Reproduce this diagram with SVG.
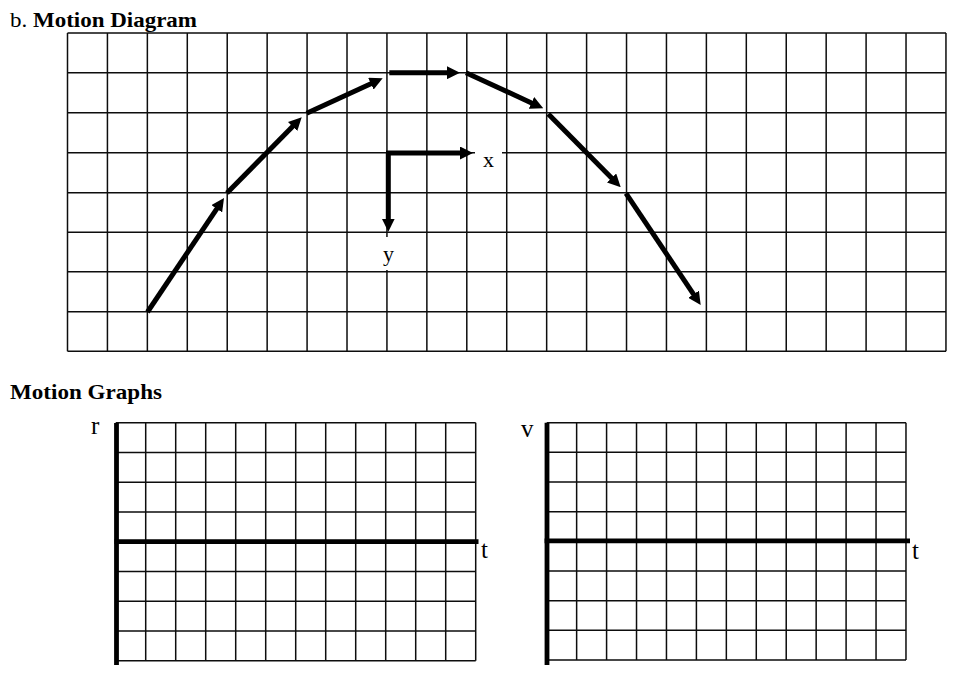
<svg xmlns="http://www.w3.org/2000/svg" width="974" height="688" viewBox="0 0 974 688">
  <style>
    .grid { fill: none; stroke: #0d0d0d; stroke-width: 1.5; }
    .axis { fill: none; stroke: #000; stroke-width: 4.8; }
    .arrow { fill: none; stroke: #000; stroke-width: 5; marker-end: url(#head); }
    .lbl { font-family: "Liberation Serif", "Times New Roman", serif; fill: #000; }
    .title { font-family: "Liberation Serif", "Times New Roman", serif; font-size: 22px; fill: #000; }
  </style>
  <defs>
    <marker id="head" markerUnits="userSpaceOnUse" viewBox="0 0 13 13" refX="6" refY="6.5" markerWidth="13" markerHeight="13" orient="auto">
      <path d="M0,0 L13,6.5 L0,13 z" fill="#000"/>
    </marker>
  </defs>
  <rect width="974" height="688" fill="#fff"/>

  <text class="title" x="10" y="27" textLength="187" lengthAdjust="spacingAndGlyphs">b. <tspan font-weight="bold">Motion Diagram</tspan></text>

  <g id="motion-diagram-grid">
    <path class="grid" d="M67.5,33 H946 M67.5,72.7 H946 M67.5,112.7 H946 M67.5,152.7 H946 M67.5,192.7 H946 M67.5,232.3 H946 M67.5,271.7 H946 M67.5,311.7 H946 M67.5,351.3 H946
      M67.5,33 V351.3 M107.43,33 V351.3 M147.36,33 V351.3 M187.29,33 V351.3 M227.22,33 V351.3 M267.15,33 V351.3 M307.08,33 V351.3 M347.01,33 V351.3 M386.94,33 V351.3 M426.87,33 V351.3 M466.8,33 V351.3 M506.73,33 V351.3 M546.66,33 V351.3 M586.59,33 V351.3 M626.52,33 V351.3 M666.45,33 V351.3 M706.38,33 V351.3 M746.31,33 V351.3 M786.24,33 V351.3 M826.17,33 V351.3 M866.1,33 V351.3 M906.03,33 V351.3 M945.96,33 V351.3"/>
  </g>

  <g id="axis-labels">
    <rect x="475" y="146" width="27" height="24" fill="#fff"/>
    <text class="lbl" x="483" y="167" font-size="22">x</text>
    <rect x="378" y="237" width="20" height="33" fill="#fff"/>
    <text class="lbl" x="383" y="261" font-size="22">y</text>
  </g>

  <g id="connectors">
    <path class="arrow" d="M147.5,312 L220.1,203.8"/>
    <path class="arrow" d="M227,193 L296.8,122.3"/>
    <path class="arrow" d="M306.7,113.3 L376.3,81.2"/>
    <path class="arrow" d="M389.3,72.7 L453,72.7"/>
    <path class="arrow" d="M466,72.7 L536.9,105.4"/>
    <path class="arrow" d="M548.3,114 L615.8,182.3"/>
    <path class="arrow" d="M626,193.3 L696.8,299.2"/>
    <path class="arrow" d="M386,153 L466,153"/>
    <path class="arrow" d="M388.3,153 L388.3,224.7"/>
  </g>

  <text class="title" x="10" y="399" font-weight="bold" textLength="152" lengthAdjust="spacingAndGlyphs">Motion Graphs</text>

  <g id="position-graph">
    <path class="grid" d="M115.7,422.7 H475.7 M115.7,452.45 H475.7 M115.7,482.2 H475.7 M115.7,511.95 H475.7 M115.7,571.45 H475.7 M115.7,601.2 H475.7 M115.7,630.95 H475.7 M115.7,660.7 H475.7
      M145.7,422.7 V660.7 M175.7,422.7 V660.7 M205.7,422.7 V660.7 M235.7,422.7 V660.7 M265.7,422.7 V660.7 M295.7,422.7 V660.7 M325.7,422.7 V660.7 M355.7,422.7 V660.7 M385.7,422.7 V660.7 M415.7,422.7 V660.7 M445.7,422.7 V660.7 M475.7,422.7 V660.7"/>
    <path class="axis" d="M116.5,423 V665"/>
    <path class="axis" d="M114.5,541.7 H478.5"/>
    <text class="lbl" x="91" y="434" font-size="25">r</text>
    <text class="lbl" x="481" y="558" font-size="25">t</text>
  </g>

  <g id="velocity-graph">
    <path class="grid" d="M546.7,422.7 H906 M546.7,452.36 H906 M546.7,482.02 H906 M546.7,511.68 H906 M546.7,571 H906 M546.7,600.66 H906 M546.7,630.32 H906 M546.7,660 H906
      M576.64,422.7 V660 M606.58,422.7 V660 M636.52,422.7 V660 M666.46,422.7 V660 M696.4,422.7 V660 M726.34,422.7 V660 M756.28,422.7 V660 M786.22,422.7 V660 M816.16,422.7 V660 M846.1,422.7 V660 M876.04,422.7 V660 M905.98,422.7 V660"/>
    <path class="axis" d="M547,422.7 V665"/>
    <path class="axis" d="M544.6,540.8 H910"/>
    <text class="lbl" x="521" y="437" font-size="25">v</text>
    <text class="lbl" x="912" y="559" font-size="25">t</text>
  </g>
</svg>
